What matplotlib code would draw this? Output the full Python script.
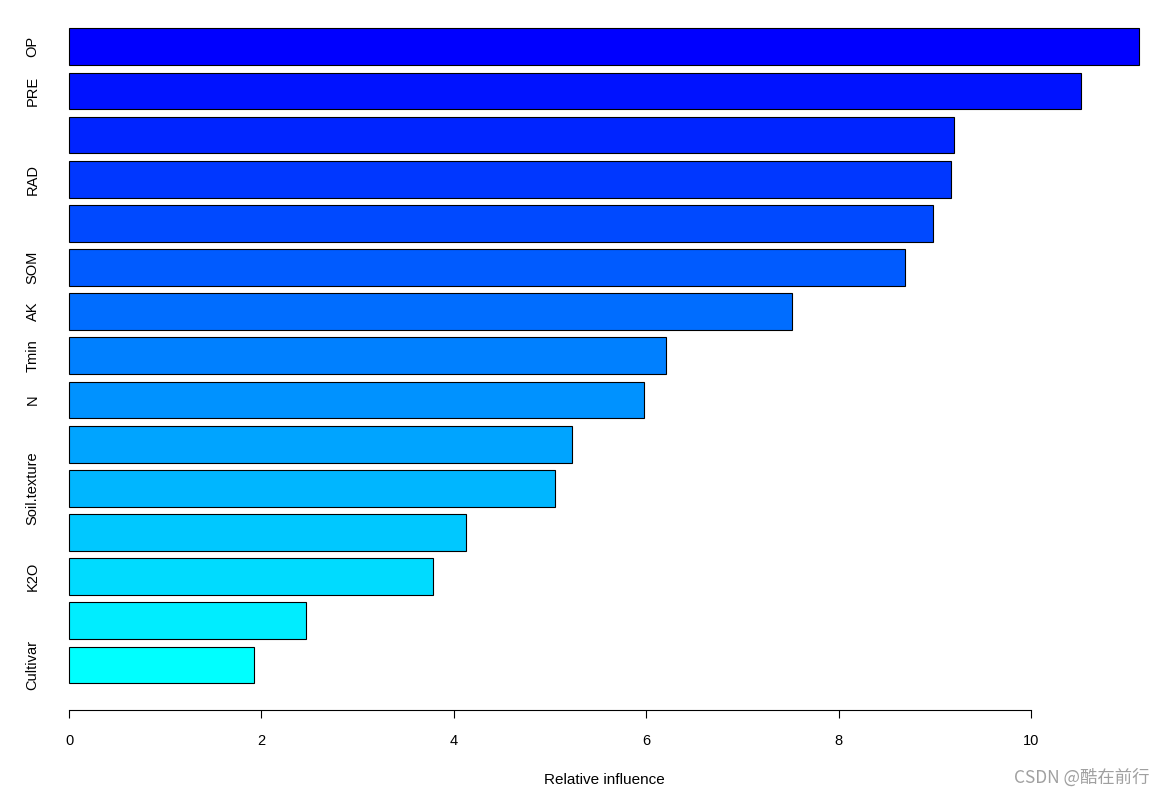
import matplotlib
matplotlib.use('Agg')
import matplotlib.pyplot as plt
from matplotlib.colors import hsv_to_rgb
import numpy as np

plt.rcParams['font.family'] = ['Liberation Sans', 'DejaVu Sans']

# variables from bottom bar to top bar (R drops labels that overlap)
var_labels = ['Cultivar', '', 'K2O', '', 'Soil.texture', '', 'N', 'Tmin',
              'AK', 'SOM', '', 'RAD', '', 'PRE', 'OP']
rel_inf = [1.92, 2.46, 3.78, 4.13, 5.05, 5.23, 5.98, 6.21,
           7.52, 8.69, 8.98, 9.17, 9.20, 10.52, 11.12]
x_ticks = [0, 2, 4, 6, 8, 10]

n = len(rel_inf)
ypos = np.arange(n) * 1.2
# rainbow(n, start=3/6, end=4/6) like gbm summary
hues = np.linspace(3/6, 4/6, n)
cols = [hsv_to_rgb((h, 1, 1)) for h in hues]

fig = plt.figure(figsize=(11.66, 7.97), dpi=100)
W, H = 1166, 797
ax = fig.add_axes([48/W, (H-710)/H, (1160-48)/W, (710-10)/H])

ax.barh(ypos, rel_inf, height=1.0, color=cols, edgecolor='black', linewidth=0.8)

px_x = 96.2  # pixels per unit on x
ax.set_xlim((48-69)/px_x, (1160-69)/px_x)
px_y = 36.8
ax.set_ylim(-(710-665)/px_y, (665-10)/px_y)

for s in ['top', 'right', 'left']:
    ax.spines[s].set_visible(False)
ax.spines['bottom'].set_bounds(0, 10)
ax.spines['bottom'].set_linewidth(0.8)

ax.set_xticks(x_ticks)
ax.set_xticklabels([str(t) for t in x_ticks], fontsize=10.5)
ax.tick_params(axis='x', length=6, width=0.8, pad=11)

ax.set_yticks(ypos)
ax.set_yticklabels(var_labels, rotation=90, fontsize=10.5, va='center')
ax.tick_params(axis='y', length=0, pad=6)

ax.set_xlabel('Relative influence', fontsize=11, labelpad=18.5)

fig.text(1150/W, (H-778)/H, 'CSDN @酷在前行', ha='right', va='center',
         fontsize=12.5, color='#a0a0a0',
         family=['Noto Sans CJK SC', 'DejaVu Sans'])

fig.savefig('out.png', dpi=100)
